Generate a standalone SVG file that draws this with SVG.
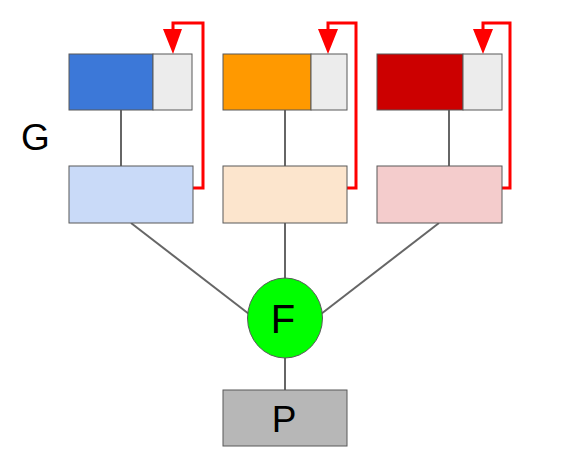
<svg xmlns="http://www.w3.org/2000/svg" width="564" height="465" viewBox="0 0 564 465">
<style>
.box{stroke:#595959;stroke-width:1}
.gray{fill:#ececec}
.ln{stroke:#666;stroke-width:2;fill:none}
.fb{stroke:#f00;stroke-width:3;fill:none}
.ah{fill:#f00}
text{font-family:"Liberation Sans",Arial,sans-serif;fill:#000}
</style>
<rect width="564" height="465" fill="#fff"/>
<g id="connectors">
<line class="ln" x1="121" y1="110" x2="121" y2="166"/>
<line class="ln" x1="285" y1="110" x2="285" y2="166"/>
<line class="ln" x1="449" y1="110" x2="449" y2="166"/>
<line class="ln" x1="131" y1="223" x2="249" y2="314"/>
<line class="ln" x1="285" y1="223" x2="285" y2="279"/>
<line class="ln" x1="439" y1="223" x2="321" y2="314"/>
<line class="ln" x1="285" y1="358" x2="285" y2="390"/>
<polyline class="fb" points="193,188 203,188 203,23 173,23 173,32"/>
<polygon class="ah" points="163,29 182,29 173,54"/>
<polyline class="fb" points="347,188 356,188 356,23 328,23 328,32"/>
<polygon class="ah" points="318,29 338,29 328,54"/>
<polyline class="fb" points="502,188 510,188 510,23 483,23 483,32"/>
<polygon class="ah" points="473,29 493,29 483,54"/>
</g>
<g id="G-label"><text x="21" y="150" font-size="37">G</text></g>
<g id="blue-top">
<rect class="box" x="69" y="54" width="84" height="56" fill="#3c78d8"/>
<rect class="box gray" x="153" y="54" width="39" height="56"/>
</g>
<g id="orange-top">
<rect class="box" x="223" y="54" width="88" height="56" fill="#ff9900"/>
<rect class="box gray" x="311" y="54" width="36" height="56"/>
</g>
<g id="red-top">
<rect class="box" x="377" y="54" width="86" height="56" fill="#cc0000"/>
<rect class="box gray" x="463" y="54" width="39" height="56"/>
</g>
<g id="blue-bottom"><rect class="box" x="69" y="166" width="124" height="57" fill="#c9daf8"/></g>
<g id="orange-bottom"><rect class="box" x="223" y="166" width="124" height="57" fill="#fce5cd"/></g>
<g id="red-bottom"><rect class="box" x="377" y="166" width="125" height="57" fill="#f4cccc"/></g>
<g id="F">
<ellipse class="box" cx="285" cy="318" rx="37.5" ry="40" fill="#00ff00"/>
<text x="283" y="333" font-size="40" text-anchor="middle">F</text>
</g>
<g id="P">
<rect class="box" x="223" y="390" width="124" height="56" fill="#b7b7b7"/>
<text x="284" y="432" font-size="37" text-anchor="middle">P</text>
</g>
</svg>
